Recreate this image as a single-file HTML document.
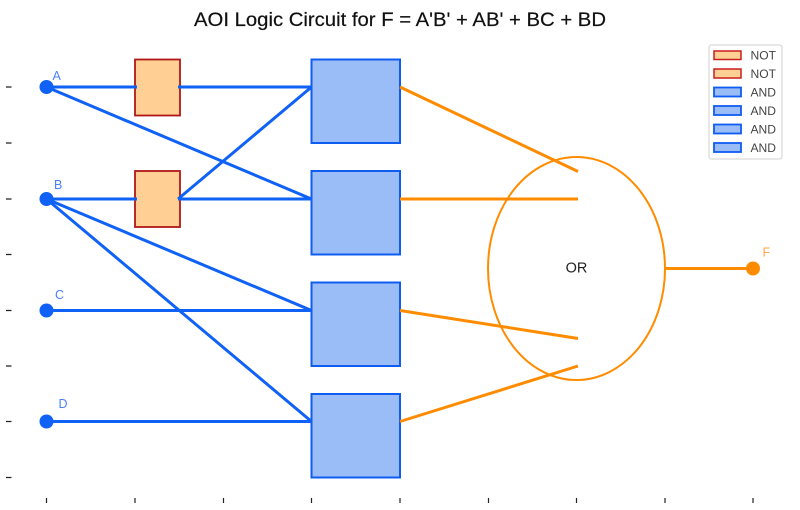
<!DOCTYPE html>
<html>
<head>
<meta charset="utf-8">
<style>
html,body{margin:0;padding:0;background:#fff;width:800px;height:510px;overflow:hidden}
svg{display:block}
text{font-family:"Liberation Sans",sans-serif}
</style>
</head>
<body>
<svg width="800" height="510" viewBox="0 0 800 510" xmlns="http://www.w3.org/2000/svg">
<rect width="800" height="510" fill="#fff"/>
<text x="400" y="26" font-size="19" fill="#111" stroke="#111" stroke-width="0.2" text-anchor="middle" textLength="412" lengthAdjust="spacingAndGlyphs">AOI Logic Circuit for F = A'B' + AB' + BC + BD</text>

<g stroke="#222" stroke-width="1.2" fill="none">
<path d="M6 87H11.5M6 143H11.5M6 199H11.5M6 254.5H11.5M6 310.5H11.5M6 366H11.5M6 421.5H11.5M6 477.5H11.5"/>
<path d="M46.5 498V503M135 498V503M223.5 498V503M311.5 498V503M400 498V503M488.5 498V503M576.5 498V503M665 498V503M753 498V503"/>
</g>

<!-- NOT gates -->
<g fill="#FFCF93" stroke="#B01818" stroke-width="1.8">
<rect x="135" y="59.5" width="45" height="56"/>
<rect x="135" y="171" width="45" height="56"/>
</g>
<!-- AND gates -->
<g fill="#9ABDF7" stroke="#0F5CF0" stroke-width="2">
<rect x="311.5" y="59.5" width="88.5" height="83.5"/>
<rect x="311.5" y="171" width="88.5" height="83.5"/>
<rect x="311.5" y="282.5" width="88.5" height="83.5"/>
<rect x="311.5" y="394" width="88.5" height="83.5"/>
</g>

<!-- OR gate -->
<ellipse cx="576.5" cy="268.5" rx="88.5" ry="111.5" fill="none" stroke="#FF8C00" stroke-width="2"/>

<!-- blue wires -->
<g stroke="#0F62F5" stroke-width="3" fill="none">
<path d="M46.5 87H137"/>
<path d="M178 87H311.5"/>
<path d="M46.5 87L311.5 199"/>
<path d="M46.5 199H137"/>
<path d="M178 199H311.5"/>
<path d="M178 199L311.5 87"/>
<path d="M46.5 199L311.5 310.5"/>
<path d="M46.5 199L311.5 421.5"/>
<path d="M46.5 310.5H311.5"/>
<path d="M46.5 421.5H311.5"/>
</g>
<!-- orange wires -->
<g stroke="#FF8C00" stroke-width="3" fill="none">
<path d="M400 87L578 171.5"/>
<path d="M400 199H578"/>
<path d="M400 310.5L578 338.5"/>
<path d="M400 421.5L578 366"/>
<path d="M665 268.5H753"/>
</g>

<!-- terminals -->
<g fill="#0F62F5">
<circle cx="46.5" cy="87" r="7"/>
<circle cx="46.5" cy="199" r="7"/>
<circle cx="46.5" cy="310.5" r="7"/>
<circle cx="46.5" cy="421.5" r="7"/>
</g>
<circle cx="753" cy="268.5" r="7" fill="#FF8C00"/>

<g font-size="12.5" fill="#4A80F8">
<text x="52.5" y="80">A</text>
<text x="54" y="189">B</text>
<text x="55" y="299">C</text>
<text x="58.5" y="408">D</text>
</g>
<text x="762.5" y="256.5" font-size="12.5" fill="#FFA64D">F</text>
<text x="576.5" y="272.5" font-size="14.5" fill="#222" text-anchor="middle">OR</text>

<!-- legend -->
<rect x="709" y="45" width="73" height="114" rx="2.5" fill="#fff" stroke="#D9D9D9" stroke-width="1.2"/>
<g fill="#FFCF93" stroke="#C81E1E" stroke-width="1.5">
<rect x="714" y="51" width="27" height="8.5"/>
<rect x="714" y="69" width="27" height="9"/>
</g>
<g fill="#9ABDF7" stroke="#0F5CF0" stroke-width="1.8">
<rect x="714" y="87.5" width="27" height="9"/>
<rect x="714" y="106" width="27" height="9"/>
<rect x="714" y="124.5" width="27" height="9"/>
<rect x="714" y="143" width="27" height="9"/>
</g>
<g font-size="12" fill="#444">
<text x="750.5" y="59.5" textLength="25.5" lengthAdjust="spacingAndGlyphs">NOT</text>
<text x="750.5" y="78" textLength="25.5" lengthAdjust="spacingAndGlyphs">NOT</text>
<text x="750.5" y="96.5" textLength="25.5" lengthAdjust="spacingAndGlyphs">AND</text>
<text x="750.5" y="115" textLength="25.5" lengthAdjust="spacingAndGlyphs">AND</text>
<text x="750.5" y="133.5" textLength="25.5" lengthAdjust="spacingAndGlyphs">AND</text>
<text x="750.5" y="152" textLength="25.5" lengthAdjust="spacingAndGlyphs">AND</text>
</g>
</svg>
</body>
</html>
